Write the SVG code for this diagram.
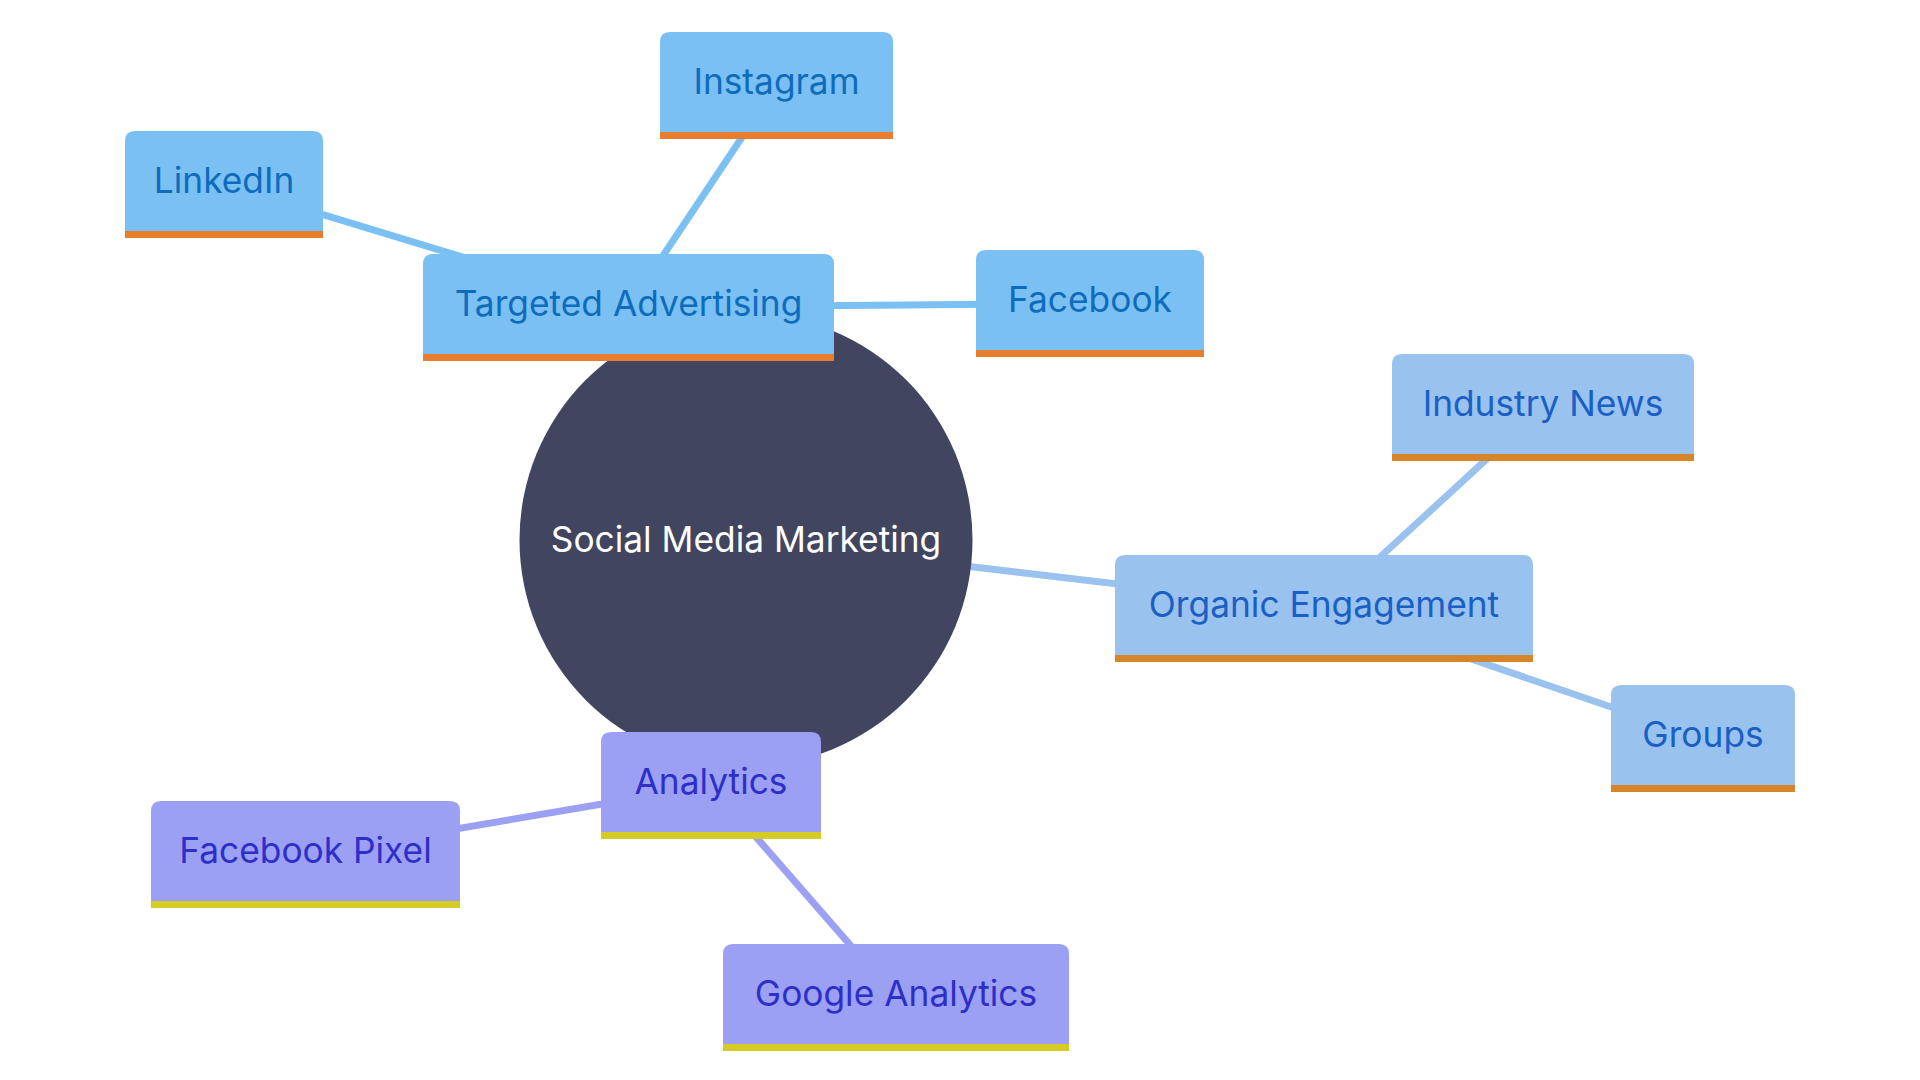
<svg xmlns="http://www.w3.org/2000/svg" width="1920" height="1080" viewBox="0 0 1920 1080">
<style>
.t{font-family:Inter,"Noto Sans","Liberation Sans",sans-serif;font-size:35.3px;text-anchor:middle}
.b1{fill:#7bc0f2}.tb1{fill:#0e6cbd}.r1{fill:#e87d2e}
.b2{fill:#99c2ef}.tb2{fill:#1a60c4}.r2{fill:#d6852a}
.b3{fill:#9ca0f3}.tb3{fill:#2e2ec8}.r3{fill:#d4cc24}
.e{stroke-width:7;stroke-linecap:butt;fill:none}
</style>
<rect width="1920" height="1080" fill="#ffffff"/>
<g id="connectors">
<line class="e" stroke="#7bc0f2" x1="746" y1="540" x2="628.5" y2="307.5"/>
<line class="e" stroke="#7bc0f2" x1="628.5" y1="307.5" x2="224" y2="184.5"/>
<line class="e" stroke="#7bc0f2" x1="628.5" y1="307.5" x2="776.5" y2="85.5"/>
<line class="e" stroke="#7bc0f2" x1="628.5" y1="307.5" x2="1090" y2="303.5"/>
<line class="e" stroke="#99c2ef" x1="746" y1="540" x2="1324" y2="608.5"/>
<line class="e" stroke="#99c2ef" x1="1324" y1="608.5" x2="1543" y2="407.5"/>
<line class="e" stroke="#99c2ef" x1="1324" y1="608.5" x2="1703" y2="738.5"/>
<line class="e" stroke="#9ca0f3" x1="746" y1="540" x2="711" y2="785.5"/>
<line class="e" stroke="#9ca0f3" x1="711" y1="785.5" x2="305.5" y2="854.5"/>
<line class="e" stroke="#9ca0f3" x1="711" y1="785.5" x2="896" y2="997.5"/>
</g>
<g id="root">
<circle cx="746" cy="540" r="226.5" fill="#414560"/>
<text class="t" x="746" y="552" fill="#ffffff">Social Media Marketing</text>
</g>
<g id="targeted-advertising">
<path class="b1" d="M423 361V264Q423 254 433 254H824Q834 254 834 264V361Z"/>
<rect class="r1" x="423" y="354" width="411" height="7"/>
<text class="t tb1" x="628.5" y="316">Targeted Advertising</text>
</g>
<g id="linkedin">
<path class="b1" d="M125 238V141Q125 131 135 131H313Q323 131 323 141V238Z"/>
<rect class="r1" x="125" y="231" width="198" height="7"/>
<text class="t tb1" x="224" y="193">LinkedIn</text>
</g>
<g id="instagram">
<path class="b1" d="M660 139V42Q660 32 670 32H883Q893 32 893 42V139Z"/>
<rect class="r1" x="660" y="132" width="233" height="7"/>
<text class="t tb1" x="776.5" y="94">Instagram</text>
</g>
<g id="facebook">
<path class="b1" d="M976 357V260Q976 250 986 250H1194Q1204 250 1204 260V357Z"/>
<rect class="r1" x="976" y="350" width="228" height="7"/>
<text class="t tb1" x="1090" y="312">Facebook</text>
</g>
<g id="organic-engagement">
<path class="b2" d="M1115 662V565Q1115 555 1125 555H1523Q1533 555 1533 565V662Z"/>
<rect class="r2" x="1115" y="655" width="418" height="7"/>
<text class="t tb2" x="1324" y="617">Organic Engagement</text>
</g>
<g id="industry-news">
<path class="b2" d="M1392 461V364Q1392 354 1402 354H1684Q1694 354 1694 364V461Z"/>
<rect class="r2" x="1392" y="454" width="302" height="7"/>
<text class="t tb2" x="1543" y="416">Industry News</text>
</g>
<g id="groups">
<path class="b2" d="M1611 792V695Q1611 685 1621 685H1785Q1795 685 1795 695V792Z"/>
<rect class="r2" x="1611" y="785" width="184" height="7"/>
<text class="t tb2" x="1703" y="747">Groups</text>
</g>
<g id="analytics">
<path class="b3" d="M601 839V742Q601 732 611 732H811Q821 732 821 742V839Z"/>
<rect class="r3" x="601" y="832" width="220" height="7"/>
<text class="t tb3" x="711" y="794">Analytics</text>
</g>
<g id="facebook-pixel">
<path class="b3" d="M151 908V811Q151 801 161 801H450Q460 801 460 811V908Z"/>
<rect class="r3" x="151" y="901" width="309" height="7"/>
<text class="t tb3" x="305.5" y="863">Facebook Pixel</text>
</g>
<g id="google-analytics">
<path class="b3" d="M723 1051V954Q723 944 733 944H1059Q1069 944 1069 954V1051Z"/>
<rect class="r3" x="723" y="1044" width="346" height="7"/>
<text class="t tb3" x="896" y="1006">Google Analytics</text>
</g>
</svg>
